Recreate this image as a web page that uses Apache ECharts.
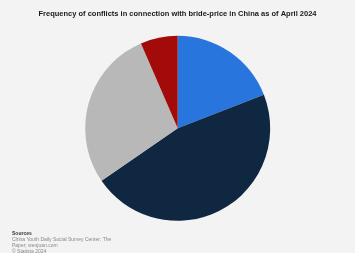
<!DOCTYPE html>
<html><head><meta charset="utf-8">
<script src="https://cdn.jsdelivr.net/npm/echarts@6/dist/echarts.min.js"></script>
<style>html,body{margin:0;padding:0;background:#f3f3f3}#c{width:355px;height:253px}</style>
</head><body><div id="c"></div>
<script>
const categories = ["Frequently", "Sometimes", "Rarely", "Never"];
const shares = [19.1, 46.3, 28.1, 6.5];
const colors = ["#2876dd", "#0f2741", "#b8b8b8", "#a30a0a"];
const titleText = "Frequency of conflicts in connection with bride-price in China as of April 2024";
const sourceLines = ["China Youth Daily Social Survey Center; The", "Paper; wenjuan.com", "\u00a9 Statista 2024"];

const chart = echarts.init(document.getElementById('c'), null, {renderer: 'canvas'});
chart.setOption({
  backgroundColor: '#f3f3f3',
  animation: false,
  title: {
    text: titleText, left: 'center', top: 5,
    textStyle: {fontFamily: 'Liberation Sans, Arial, sans-serif', fontSize: 7.5, fontWeight: 'bold', color: '#1a1a1a'}
  },
  graphic: [{
    type: 'text', left: 12, top: 231,
    style: {
      text: '{b|Sources}\n' + sourceLines.join('\n'),
      rich: {b: {fontWeight: 'bold', fontSize: 5, fill: '#333', lineHeight: 5.8, fontFamily: 'Liberation Sans, Arial, sans-serif'}},
      font: '5px Liberation Sans, Arial, sans-serif', fill: '#888', lineHeight: 5.8
    }
  }],
  series: [{
    type: 'pie',
    center: [177.7, 128.3],
    radius: [0, 92.5],
    startAngle: 90,
    clockwise: true,
    label: {show: false},
    labelLine: {show: false},
    emphasis: {disabled: true},
    itemStyle: {borderWidth: 0},
    data: categories.map((c, i) => ({name: c, value: shares[i], itemStyle: {color: colors[i]}}))
  }]
});
</script></body></html>
